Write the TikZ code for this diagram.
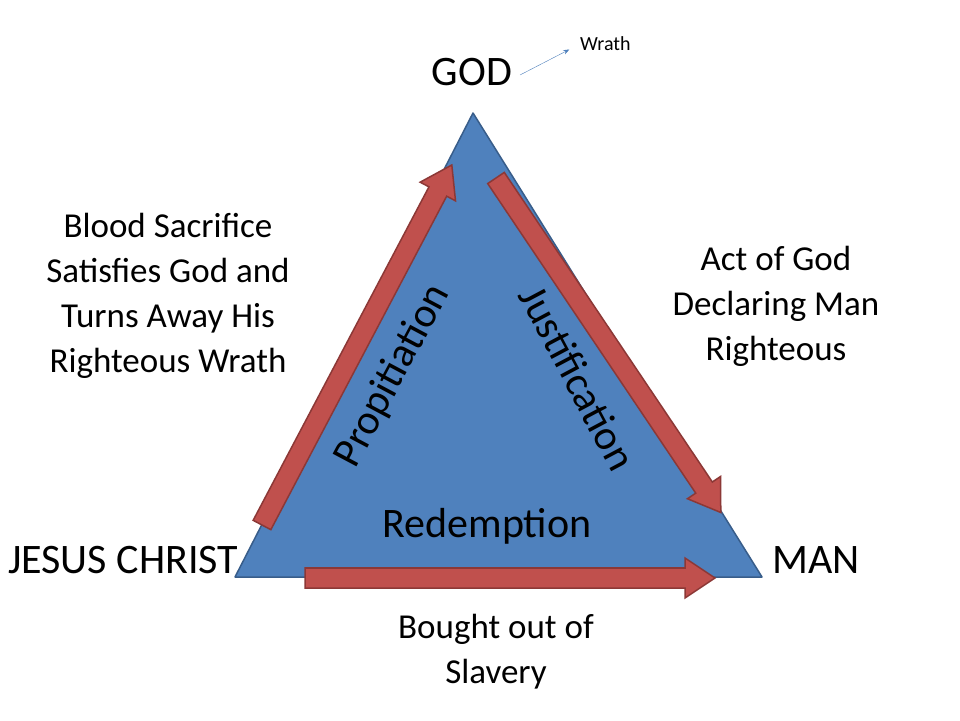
\documentclass[tikz,border=0pt]{standalone}
\usepackage{fontspec}
\setmainfont{Carlito}
\usetikzlibrary{arrows.meta}
\begin{document}
\begin{tikzpicture}[x=1pt,y=1pt,
 lbl/.style={align=center,font=\fontsize{35}{45}\selectfont,inner sep=0pt},
 big/.style={font=\fontsize{42}{44}\selectfont,inner sep=0pt},
 barrow/.style={fill={rgb,255:red,192;green,80;blue,77},draw={rgb,255:red,140;green,56;blue,54},line width=1.5pt,line join=miter}]
\useasboundingbox (0,0) rectangle (960,720);
\fill[white] (0,0) rectangle (960,720);
\coordinate (T) at (473,607);
\coordinate (L) at (235,143);
\coordinate (R) at (762,143);
\filldraw[fill={rgb,255:red,79;green,129;blue,189},draw={rgb,255:red,56;green,93;blue,138},line width=1.5pt,line join=round] (T)--(L)--(R)--cycle;
\foreach \sx/\sy/\ang/\len in {262/195/62.2/407, 496/542/-56.1/403, 305/142/0/410}{
 \begin{scope}[shift={(\sx,\sy)},rotate=\ang]
 \draw[barrow] (0,-10)--(\len-30,-10)--(\len-30,-20)--(\len,0)--(\len-30,20)--(\len-30,10)--(0,10)--cycle;
 \end{scope}}
\node[big,rotate=62] (prop) at (393,344) {Propitiation};
\node[big,rotate=-62] (just) at (578,342) {Justification};
\node[big] (red) at (487,194) {Redemption};
\node[big] (god) at (472,648) {GOD};
\node[big,anchor=west] (jc) at (8,160) {JESUS CHRIST};
\node[big,anchor=west] (man) at (772,160) {MAN};
\node[font=\fontsize{20}{22}\selectfont,anchor=west,inner sep=0pt] (wrath) at (580,676) {Wrath};
\coordinate (w0) at (520,645);
\draw[-{Stealth[length=6pt]},draw={rgb,255:red,79;green,129;blue,189},shorten >=12pt] (w0) -- (wrath.west);
\node[lbl] (bs) at (168,424) {Blood Sacrifice\\Satisfies God and\\Turns Away His\\Righteous Wrath};
\node[lbl] (ag) at (776,414) {Act of God\\Declaring Man\\Righteous};
\node[lbl] (bo) at (496,68) {Bought out of\\Slavery};
\end{tikzpicture}
\end{document}
